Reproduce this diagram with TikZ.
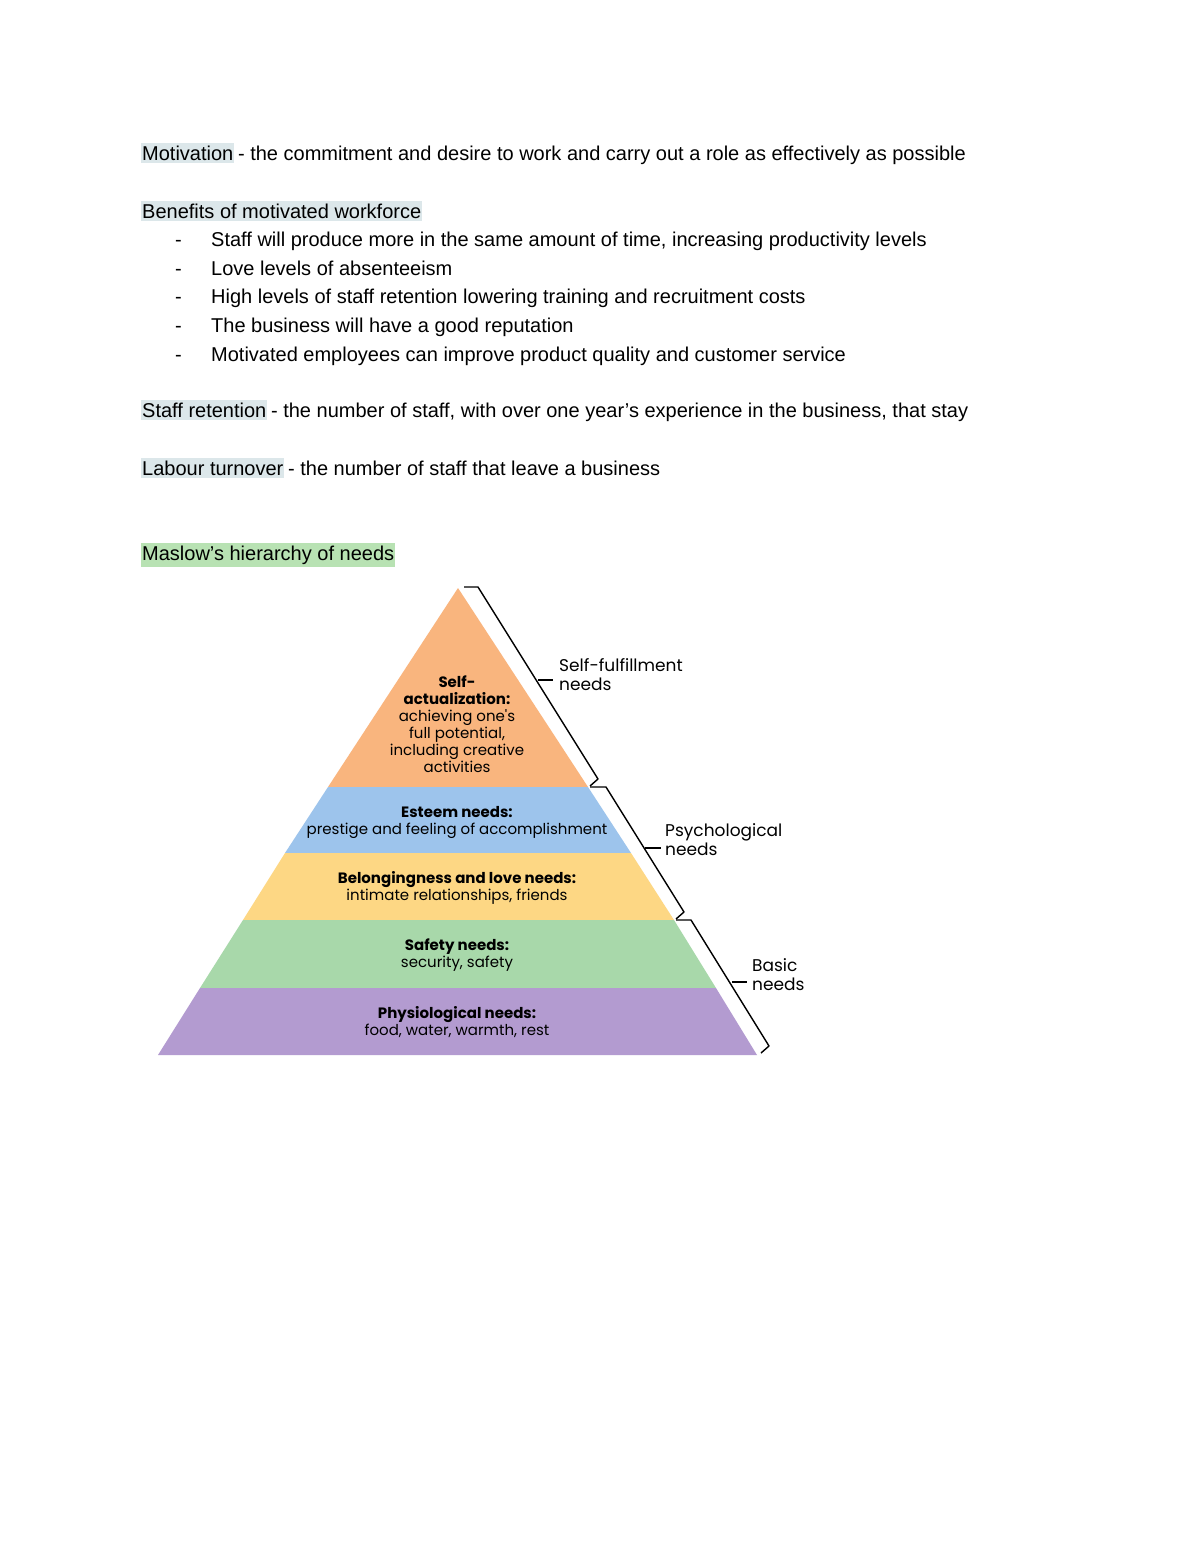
\documentclass[tikz,border=0pt]{standalone}
\usepackage{fontspec}
\setmainfont{Liberation Sans}
\newfontfamily\pyr{Poppins}
\definecolor{hlb}{HTML}{DCE7EA}
\definecolor{hlg}{HTML}{B8E2B3}
\definecolor{cOr}{HTML}{F9B57E}
\definecolor{cBl}{HTML}{9DC4EC}
\definecolor{cYe}{HTML}{FDD784}
\definecolor{cGr}{HTML}{A8D8AA}
\definecolor{cPu}{HTML}{B39BD0}
\begin{document}
\begin{tikzpicture}[x=1pt,y=-1pt,
  body/.style={anchor=base west,inner sep=0pt,font=\fontsize{20}{24}\selectfont},
  hl/.style={body,fill=#1,inner xsep=1pt,inner ysep=3pt},
  bul/.style={body},
  pt/.style={align=center,font=\pyr\fontsize{15}{20}\selectfont,inner sep=0pt},
  br/.style={draw=black,line width=1.4pt,line join=round},
  lab/.style={anchor=north west,align=left,font=\pyr\fontsize{17}{23}\selectfont,inner sep=0pt}]
\useasboundingbox (0,0) rectangle (1200,1553);
\fill[white] (0,0) rectangle (1200,1553);
\node[hl=hlb] (m) at (141,160) {Motivation};
\node[body] (mt) at (m.base east) {\,- the commitment and desire to work and carry out a role as effectively as possible};
\node[hl=hlb] (b) at (141,218) {Benefits of motivated workforce};
\foreach \y/\t [count=\i] in {246/{Staff will produce more in the same amount of time, increasing productivity levels},
 275/{Love levels of absenteeism},
 303/{High levels of staff retention lowering training and recruitment costs},
 332/{The business will have a good reputation},
 361/{Motivated employees can improve product quality and customer service}}{
 \node[body] (d\i) at (175,\y) {-};
 \node[body] (t\i) at (211,\y) {\t};}
\node[hl=hlb] (s) at (141,417) {Staff retention};
\node[body] (st) at (s.base east) {\,- the number of staff, with over one year's experience in the business, that stay};
\node[hl=hlb] (l) at (141,475) {Labour turnover};
\node[body] (lt) at (l.base east) {\,- the number of staff that leave a business};
\node[hl=hlg] (mh) at (141,560) {Maslow's hierarchy of needs};
% pyramid
\fill[cOr] (458,588) -- (588,787) -- (328,787) -- cycle;
\fill[cBl] (328,787) -- (588,787) -- (631,853) -- (285,853) -- cycle;
\fill[cYe] (285,853) -- (631,853) -- (674,920) -- (243,920) -- cycle;
\fill[cGr] (243,920) -- (674,920) -- (716,988) -- (200,988) -- cycle;
\fill[cPu] (200,988) -- (716,988) -- (757,1055) -- (158,1055) -- cycle;
\node[pt] (p1) at (457,724) {\textbf{Self-}\\[-3pt]\textbf{actualization:}\\[-3pt]achieving one's\\[-3pt]full potential,\\[-3pt]including creative\\[-3pt]activities};
\node[pt] (p2) at (457,822) {\textbf{Esteem needs:}\\[-3pt]prestige and feeling of accomplishment};
\node[pt] (p3) at (457,888) {\textbf{Belongingness and love needs:}\\[-3pt]intimate relationships, friends};
\node[pt] (p4) at (457,955) {\textbf{Safety needs:}\\[-3pt]security, safety};
\node[pt] (p5) at (457,1022) {\textbf{Physiological needs:}\\[-3pt]food, water, warmth, rest};
% brackets
\draw[br] (464,587) -- (478,587) -- (598,779) -- (590,786);
\draw[br] (538,680) -- (553,680);
\draw[br] (590,787) -- (606,787) -- (684,912) -- (676,919);
\draw[br] (645,848) -- (661,848);
\draw[br] (676,920) -- (691,920) -- (769,1046) -- (761,1053);
\draw[br] (732,982) -- (747,982);
\node[lab] (l1) at (559,658) {Self-fulfillment\\[-4pt]needs};
\node[lab] (l2) at (665,823) {Psychological\\[-4pt]needs};
\node[lab] (l3) at (752,958) {Basic\\[-4pt]needs};
\end{tikzpicture}
\end{document}
